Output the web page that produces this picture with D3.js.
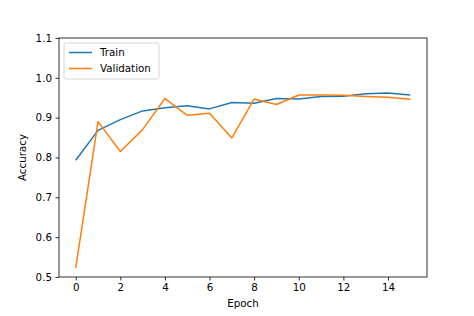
<!DOCTYPE html>
<html>
<head>
<meta charset="utf-8">
<script src="https://cdn.jsdelivr.net/npm/d3@7"></script>
<style>
  body { margin: 0; background: #fff; }
  text { font-family: "DejaVu Sans", sans-serif; fill: #000; }
</style>
</head>
<body>
<div id="fig01"></div>
<script>
var epochs = d3.range(0, 16);
var trainAcc = [0.793, 0.868, 0.895, 0.917, 0.925, 0.930, 0.922, 0.938, 0.936, 0.948,
                0.947, 0.953, 0.954, 0.960, 0.962, 0.957];
var valAcc = [0.523, 0.890, 0.815, 0.870, 0.948, 0.906, 0.911, 0.849, 0.947, 0.933,
              0.957, 0.957, 0.956, 0.953, 0.951, 0.946];
var xTicks = [0, 2, 4, 6, 8, 10, 12, 14];
var yTicks = [0.5, 0.6, 0.7, 0.8, 0.9, 1.0, 1.1];
var seriesNames = ["Train", "Validation"];
var colours = ["#1f77b4", "#ff7f0e"];

var margin = { top: 38, right: 47, bottom: 39, left: 59 };
var width = 474 - margin.left - margin.right;
var height = 316 - margin.top - margin.bottom;

var x = d3.scaleLinear().domain([-0.75, 15.75]).range([0, width]);
var y = d3.scaleLinear().domain([0.5, 1.1]).range([height, 0]);

var svg = d3.select("#fig01")
    .append("svg")
    .attr("width", 474)
    .attr("height", 316);

var fig = svg.append("g")
    .attr("transform", "translate(" + margin.left + "," + margin.top + ")");

var xAxis = fig.append("g")
    .attr("transform", "translate(0," + height + ")")
    .call(d3.axisBottom(x).tickValues(xTicks).tickSize(3.5).tickPadding(3.5).tickFormat(d3.format("d")));

var yAxis = fig.append("g")
    .call(d3.axisLeft(y).tickValues(yTicks).tickSize(3.5).tickPadding(3.5).tickFormat(d3.format(".1f")));

[xAxis, yAxis].forEach(function(a) {
    a.select(".domain").remove();
    a.selectAll("line").attr("stroke", "#000").attr("stroke-width", 0.8);
    a.selectAll("text").style("font-size", "10.3px").style("font-family", "DejaVu Sans, sans-serif");
});

var line = d3.line()
    .x((d, i) => x(epochs[i]))
    .y(d => y(d));

[trainAcc, valAcc].forEach(function(s, k) {
    fig.append("path")
        .datum(s)
        .attr("fill", "none")
        .attr("stroke", colours[k])
        .attr("stroke-width", 1.5)
        .attr("stroke-linejoin", "round")
        .attr("d", line);
});

// frame
fig.append("rect")
    .attr("x", 0).attr("y", 0)
    .attr("width", width).attr("height", height)
    .attr("fill", "none")
    .attr("stroke", "#000")
    .attr("stroke-width", 0.8);

// legend
var legend = fig.append("g").attr("transform", "translate(5,5)");
legend.append("rect")
    .attr("x", 0).attr("y", 0)
    .attr("width", 95).attr("height", 36)
    .attr("rx", 2)
    .attr("fill", "#fff")
    .attr("fill-opacity", 0.8)
    .attr("stroke", "#ccc")
    .attr("stroke-width", 0.8);

seriesNames.forEach(function(name, k) {
    var ly = 9.5 + k * 16;
    legend.append("line")
        .attr("x1", 5).attr("x2", 28)
        .attr("y1", ly).attr("y2", ly)
        .attr("stroke", colours[k])
        .attr("stroke-width", 1.5);
    legend.append("text")
        .attr("x", 36).attr("y", ly)
        .attr("dy", "0.35em")
        .style("font-size", "10.3px")
        .text(name);
});

fig.append("text")
    .attr("text-anchor", "middle")
    .attr("x", width / 2)
    .attr("y", height + 30)
    .style("font-size", "10.3px")
    .text("Epoch");

fig.append("text")
    .attr("text-anchor", "middle")
    .attr("transform", "rotate(-90)")
    .attr("x", -height / 2)
    .attr("y", -33)
    .style("font-size", "10.3px")
    .text("Accuracy");
</script>
</body>
</html>
